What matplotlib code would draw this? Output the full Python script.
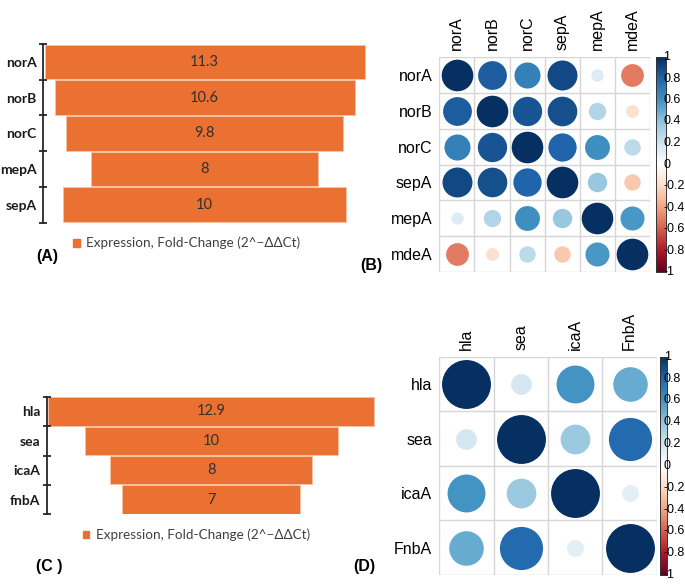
import numpy as np
import matplotlib
matplotlib.use("Agg")
import matplotlib.pyplot as plt
from matplotlib.colors import LinearSegmentedColormap
from matplotlib.patches import Rectangle

# Fold-change funnels (panels A and C)
genes_a = ["norA", "norB", "norC", "mepA", "sepA"]
fold_a = [11.3, 10.6, 9.8, 8, 10]
genes_c = ["hla", "sea", "icaA", "fnbA"]
fold_c = [12.9, 10, 8, 7]
legend_text = "Expression, Fold-Change (2^\u2212\u0394\u0394Ct)"

# Correlation matrices (panels B and D)
corr_b_labels = ["norA", "norB", "norC", "sepA", "mepA", "mdeA"]
corr_b = np.array([
    [1.00, 0.83, 0.68, 0.90, 0.15, -0.52],
    [0.83, 1.00, 0.86, 0.88, 0.30, -0.17],
    [0.68, 0.86, 1.00, 0.80, 0.62, 0.27],
    [0.90, 0.88, 0.80, 1.00, 0.38, -0.27],
    [0.15, 0.30, 0.62, 0.38, 1.00, 0.58],
    [-0.52, -0.17, 0.27, -0.27, 0.58, 1.00],
])
corr_d_labels = ["hla", "sea", "icaA", "FnbA"]
corr_d = np.array([
    [1.00, 0.18, 0.60, 0.50],
    [0.18, 1.00, 0.37, 0.78],
    [0.60, 0.37, 1.00, 0.12],
    [0.50, 0.78, 0.12, 1.00],
])
cbar_ticks = [1, 0.8, 0.6, 0.4, 0.2, 0, -0.2, -0.4, -0.6, -0.8, -1]

ORANGE = "#EB7133"
DARK = "#404040"
CALIBRI = ["Lato", "DejaVu Sans"]
ARIAL = ["Liberation Sans", "DejaVu Sans"]

# corrplot's RdBu palette
rdbu = LinearSegmentedColormap.from_list("corr_rdbu", [
    "#67001F", "#B2182B", "#D6604D", "#F4A582", "#FDDBC7", "#FFFFFF",
    "#D1E5F0", "#92C5DE", "#4393C3", "#2166AC", "#053061"])

W, H, DPI = 685, 585, 100
fig = plt.figure(figsize=(W / DPI, H / DPI), dpi=DPI)
fig.patch.set_facecolor("white")


def px_axes(l, t, r, b):
    return fig.add_axes([l / W, 1 - b / H, (r - l) / W, (b - t) / H])


def funnel(l, t, b, center, scale, genes, vals, sq, leg_x, leg_y):
    width = 360
    ax = px_axes(l, t, l + width, b)
    left = -(center - l) / scale
    ax.set_xlim(left, left + width / scale)
    n = len(genes)
    y = np.arange(n)
    v = np.array(vals, dtype=float)
    ax.barh(y, v, left=-v / 2, height=0.97, color=ORANGE,
            edgecolor="#F6C3A5", linewidth=0.6)
    for i, val in enumerate(vals):
        ax.text(0, i, f"{val:g}", ha="center", va="center",
                fontsize=10.5, color="#303030", family=CALIBRI)
    ax.set_ylim(n - 0.5, -0.5)
    for s in ["top", "right", "bottom"]:
        ax.spines[s].set_visible(False)
    ax.spines["left"].set_color("#262626")
    ax.spines["left"].set_linewidth(1.3)
    ax.set_xticks([])
    ax.set_yticks(np.arange(n + 1) - 0.5)
    ax.set_yticklabels([])
    ax.tick_params(axis="y", which="major", direction="inout", length=6,
                   width=1.3, color="#262626")
    ax.set_yticks(y, minor=True)
    ax.set_yticklabels(genes, minor=True, fontsize=10, fontweight="bold",
                       family=CALIBRI, color="#1A1A1A")
    ax.tick_params(axis="y", which="minor", length=0, pad=5)
    ax.patch.set_alpha(0)
    # legend
    fig.patches.append(Rectangle((sq[0] / W, 1 - sq[3] / H),
                                 (sq[2] - sq[0]) / W, (sq[3] - sq[1]) / H,
                                 transform=fig.transFigure, color=ORANGE))
    fig.text(leg_x / W, 1 - leg_y / H, legend_text, ha="left", va="center",
             fontsize=9.7, color=DARK, family=CALIBRI)


def corrplot(l, t, r, b, labels, mat, cb_l, cb_r, tick_x):
    ax = px_axes(l, t, r, b)
    n = len(labels)
    ax.set_xlim(0, n)
    ax.set_ylim(n, 0)
    cell = min((r - l) / n, (b - t) / n)
    for i in range(n):
        for j in range(n):
            val = mat[i, j]
            d_pt = 0.9 * np.sqrt(abs(val)) * cell * 72 / DPI
            ax.scatter(j + 0.5, i + 0.5, s=d_pt ** 2, color=rdbu((val + 1) / 2),
                       linewidths=0, zorder=3)
    for k in range(n + 1):
        ax.axhline(k, color="#D6D6D6", lw=1.0, zorder=1)
        ax.axvline(k, color="#D6D6D6", lw=1.0, zorder=1)
    for s in ax.spines.values():
        s.set_visible(False)
    ax.set_xticks(np.arange(n) + 0.5)
    ax.set_yticks(np.arange(n) + 0.5)
    ax.set_yticklabels(labels, fontsize=11.5, family=ARIAL)
    ax.xaxis.tick_top()
    ax.set_xticklabels(labels, fontsize=11.5, family=ARIAL, rotation=90)
    ax.tick_params(length=0, pad=5)

    cax = px_axes(cb_l, t, cb_r, b)
    grad = np.linspace(1, -1, 200).reshape(-1, 1)
    cax.imshow(grad, cmap=rdbu, vmin=-1, vmax=1, aspect="auto",
               extent=[0, 1, -1, 1])
    cax.set_xticks([])
    cax.set_yticks([])
    for s in cax.spines.values():
        s.set_linewidth(0.7)
        s.set_color("#333333")
    for k, tv in enumerate(cbar_ticks):
        ypx = t + (b - t) * k / (len(cbar_ticks) - 1)
        fig.text(tick_x / W, 1 - ypx / H, f"{tv:g}", ha="left", va="center",
                 fontsize=9, family=ARIAL, color="black")


funnel(43.5, 44, 222.7, 204.7, 28.3, genes_a, fold_a,
       (73, 239, 80, 247), 86, 243)
funnel(47, 396.7, 514.3, 211, 25.3, genes_c, fold_c,
       (83, 531, 89, 538), 96, 535)

corrplot(439.3, 57, 650, 272, corr_b_labels, corr_b, 656, 666, 663)
corrplot(439.3, 356.7, 656.7, 575, corr_d_labels, corr_d, 660, 667, 664)

for txt, x, y in [("(A)", 36, 257), ("(B)", 360, 266),
                  ("(C )", 36, 567), ("(D)", 353, 567)]:
    fig.text(x / W, 1 - y / H, txt, ha="left", va="center", fontsize=11.5,
             fontweight="bold", family=ARIAL, color="black")

fig.savefig("out.png", dpi=DPI, facecolor="white")
